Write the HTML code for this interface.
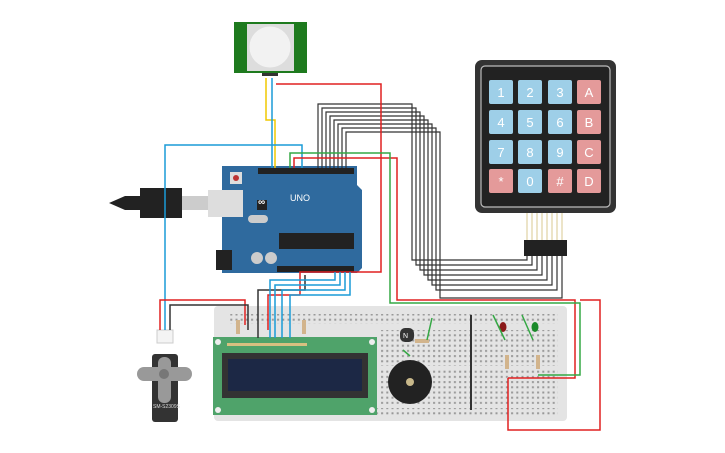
<!DOCTYPE html><html><head><style>body{margin:0;background:#fff}svg{display:block}text{font-family:"Liberation Sans",sans-serif}</style></head><body>
<svg width="725" height="453" viewBox="0 0 725 453" xmlns="http://www.w3.org/2000/svg">
<defs><pattern id="d" width="5.2" height="5.2" patternUnits="userSpaceOnUse"><rect x="1.5" y="1.5" width="2" height="2" fill="#666"/></pattern></defs>
<!-- breadboard -->
<rect x="214" y="306" width="353" height="115" rx="4" fill="#e4e4e4"/>
<rect x="228" y="314" width="330" height="10" fill="url(#d)" opacity=".6"/>
<rect x="380" y="330" width="178" height="36" fill="url(#d)" opacity=".6"/>
<rect x="380" y="370" width="178" height="34" fill="url(#d)" opacity=".6"/>
<rect x="228" y="408" width="330" height="8" fill="url(#d)" opacity=".6"/>
<rect x="470" y="315" width="2" height="95" fill="#333"/>
<!-- LCD -->
<rect x="213" y="337" width="164" height="78" fill="#4fa36a"/>
<rect x="222" y="353" width="146" height="45" fill="#333"/>
<rect x="228" y="359" width="134" height="32" fill="#1c2845"/>
<g fill="#eee"><circle cx="218" cy="342" r="3"/><circle cx="372" cy="342" r="3"/><circle cx="218" cy="410" r="3"/><circle cx="372" cy="410" r="3"/></g>
<g fill="#d8c080"><rect x="227" y="343" width="80" height="3"/></g>
<!-- buzzer -->
<circle cx="410" cy="382" r="22" fill="#222"/>
<circle cx="410" cy="382" r="4" fill="#c8b88a"/>
<!-- transistor -->
<rect x="400" y="328" width="14" height="14" rx="5" fill="#333"/>
<text x="403" y="338" font-size="7" fill="#fff">N</text>
<!-- LEDs -->
<ellipse cx="503" cy="327" rx="3.5" ry="5" fill="#8b1a1a"/>
<ellipse cx="535" cy="327" rx="3.5" ry="5" fill="#1a8a2a"/>
<!-- resistors -->
<g fill="#d2b48c"><rect x="236" y="320" width="4" height="14"/><rect x="302" y="320" width="4" height="14"/><rect x="415" y="339" width="14" height="4"/><rect x="505" y="355" width="4" height="14"/><rect x="536" y="355" width="4" height="14"/></g>
<!-- servo -->
<rect x="152" y="354" width="26" height="68" rx="3" fill="#333"/>
<rect x="137" y="367" width="55" height="14" rx="7" fill="#999"/>
<rect x="158" y="357" width="13" height="46" rx="6" fill="#999"/>
<circle cx="164" cy="374" r="5" fill="#777"/>
<text x="153" y="408" font-size="5" fill="#ddd">SM-S2309S</text>
<rect x="157" y="330" width="16" height="13" fill="#f4f4f4" stroke="#ccc"/>
<!-- arduino -->
<path d="M222 166 H357 V185 L362 190 V268 L357 273 H222 Z" fill="#2f6a9e"/>
<rect x="258" y="168" width="96" height="6" fill="#222"/>
<rect x="277" y="266" width="77" height="6" fill="#222"/>
<rect x="279" y="233" width="75" height="16" fill="#222"/>
<rect x="230" y="172" width="12" height="12" fill="#ddd"/><circle cx="236" cy="178" r="3" fill="#b33"/>
<rect x="248" y="215" width="20" height="8" rx="4" fill="#ccc"/>
<rect x="216" y="250" width="16" height="20" fill="#222"/>
<circle cx="257" cy="258" r="6" fill="#ccc"/><circle cx="271" cy="258" r="6" fill="#ccc"/>
<rect x="257" y="200" width="10" height="10" fill="#222"/>
<text x="290" y="201" font-size="9" fill="#fff">UNO</text>
<text x="258" y="205" font-size="10" fill="#fff" font-weight="bold">∞</text>
<!-- usb -->
<rect x="208" y="190" width="35" height="27" fill="#ddd"/>
<rect x="182" y="196" width="26" height="14" fill="#ccc"/>
<rect x="140" y="188" width="42" height="30" fill="#222"/>
<path d="M109 203 L125 196 H140 V210 H125 Z" fill="#222"/>
<!-- PIR -->
<rect x="234" y="22" width="73" height="51" fill="#1e7a1e"/>
<rect x="247" y="24" width="47" height="47" fill="#ddd"/>
<circle cx="270" cy="47" r="21" fill="#f2f2f2" stroke="#ddd"/>
<rect x="262" y="73" width="16" height="3" fill="#333"/>
<!-- keypad -->
<rect x="475" y="60" width="141" height="153" rx="7" fill="#333"/>
<rect x="481" y="66" width="129" height="141" rx="4" fill="#222" stroke="#bbb" stroke-width="1.2"/>
<g font-size="13" fill="#fff" text-anchor="middle">
<g fill="#9ecfe8"><rect x="489" y="80" width="24" height="24" rx="2"/><rect x="518" y="80" width="24" height="24" rx="2"/><rect x="548" y="80" width="24" height="24" rx="2"/><rect x="489" y="110" width="24" height="24" rx="2"/><rect x="518" y="110" width="24" height="24" rx="2"/><rect x="548" y="110" width="24" height="24" rx="2"/><rect x="489" y="140" width="24" height="24" rx="2"/><rect x="518" y="140" width="24" height="24" rx="2"/><rect x="548" y="140" width="24" height="24" rx="2"/><rect x="518" y="169" width="24" height="24" rx="2"/></g>
<g fill="#e49a9a"><rect x="577" y="80" width="24" height="24" rx="2"/><rect x="577" y="110" width="24" height="24" rx="2"/><rect x="577" y="140" width="24" height="24" rx="2"/><rect x="577" y="169" width="24" height="24" rx="2"/><rect x="489" y="169" width="24" height="24" rx="2"/><rect x="548" y="169" width="24" height="24" rx="2"/></g>
<text x="501" y="97">1</text><text x="530" y="97">2</text><text x="560" y="97">3</text><text x="589" y="97">A</text>
<text x="501" y="127">4</text><text x="530" y="127">5</text><text x="560" y="127">6</text><text x="589" y="127">B</text>
<text x="501" y="157">7</text><text x="530" y="157">8</text><text x="560" y="157">9</text><text x="589" y="157">C</text>
<text x="501" y="186">*</text><text x="530" y="186">0</text><text x="560" y="186">#</text><text x="589" y="186">D</text>
</g>
<g stroke="#d8c890" stroke-width="1"><path d="M527 213V242M532 213V242M537 213V242M542 213V242M547 213V242M552 213V242M557 213V242M562 213V242"/></g>
<rect x="524" y="240" width="43" height="16" fill="#222"/>
<!-- keypad wires -->
<g fill="none" stroke="#333" stroke-width="1.2">
<path d="M527 256V260H412V104H318V168"/><path d="M532 256V265H416V108H322V168"/>
<path d="M537 256V270H420V112H326V168"/><path d="M542 256V275H424V116H330V168"/>
<path d="M547 256V280H428V120H334V168"/><path d="M552 256V285H432V124H338V168"/>
<path d="M557 256V290H436V128H342V168"/><path d="M562 256V298H440V132H346V168"/>
</g>
<!-- other wires -->
<g fill="none" stroke-width="1.5">
<path d="M266 78V120H275V168" stroke="#f0c800"/>
<path d="M272 78V168" stroke="#1a9bd7"/>
<path d="M276 84H381V272H300V295" stroke="#e02020"/>
<path d="M302 168V145H165V300" stroke="#1a9bd7"/>
<path d="M294 168V158H397V300H575V378H508" stroke="#e02020"/>
<path d="M290 168V153H390V303H580V375H538" stroke="#35a845"/>
<path d="M165 300V330" stroke="#1a9bd7"/><path d="M160 330V300H245V325" stroke="#e02020"/>
<path d="M170 330V305H248V330" stroke="#333"/>
<path d="M300 295H268V330" stroke="#e02020"/><path d="M305 275V290H258V338" stroke="#333"/>
<path d="M340 272V285H275V338M345 272V290H282V338M350 272V295H290V338M335 272V280H270V338" stroke="#1a9bd7"/>
<path d="M508 378V430H600V300H580" stroke="#e02020"/>
<path d="M493 315L505 340M522 315L533 340M403 350L410 356M427 340L432 318" stroke="#35a845"/>
</g>
</svg></body></html>
